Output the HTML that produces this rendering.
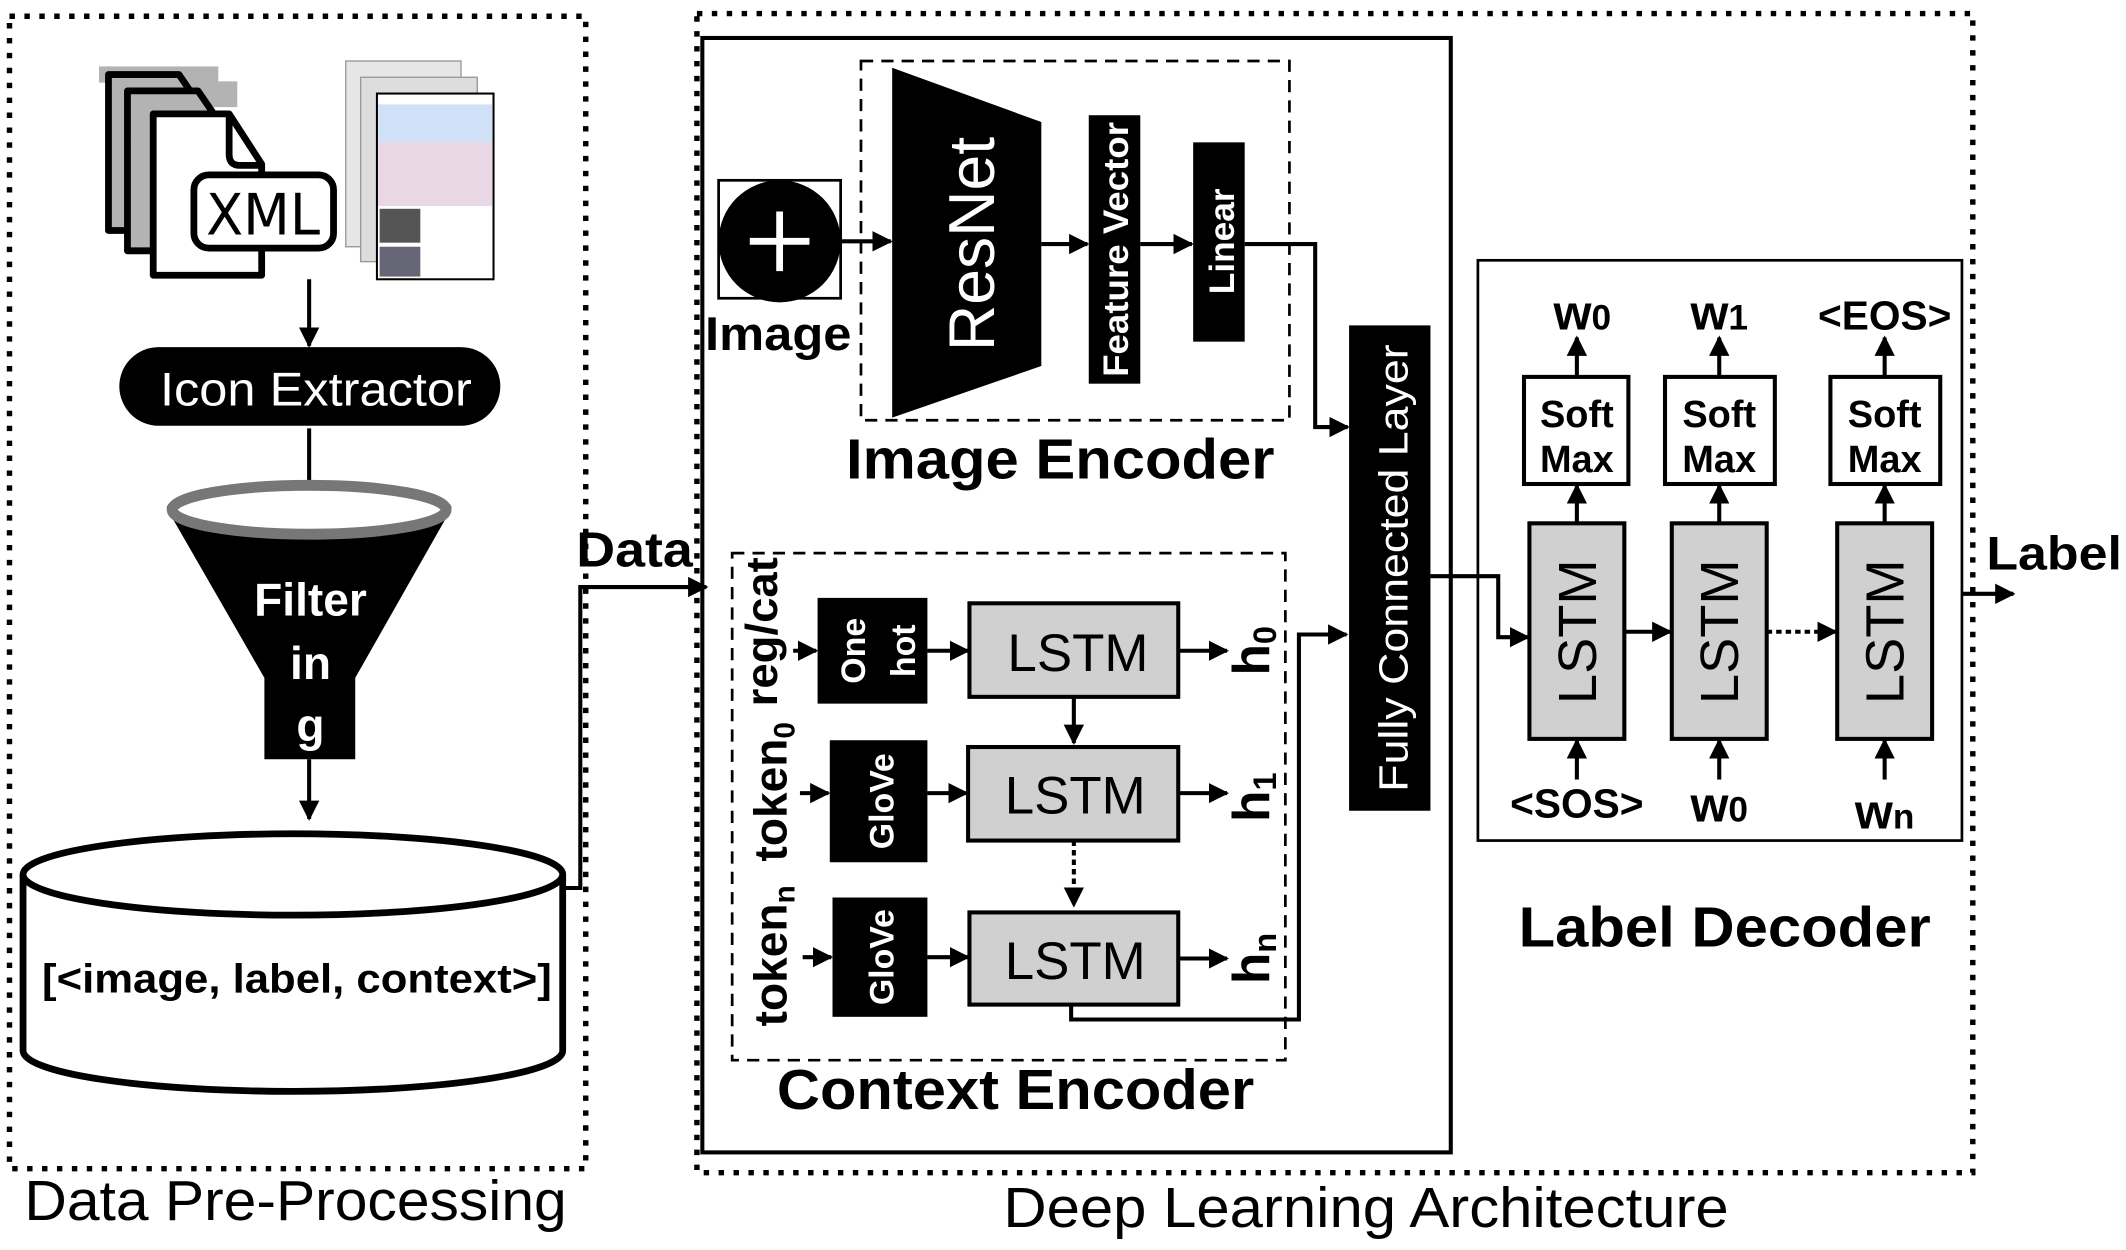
<!DOCTYPE html>
<html><head><meta charset="utf-8"><style>
html,body{margin:0;padding:0;background:#fff;}
svg{display:block;}
text{font-family:"Liberation Sans",sans-serif;}
.b{font-weight:bold;}
</style></head><body>
<svg width="2126" height="1250" viewBox="0 0 1568 922" preserveAspectRatio="none" xmlns="http://www.w3.org/2000/svg">
<defs>
<marker id="a" viewBox="0 0 10 10" refX="9" refY="5" markerWidth="5" markerHeight="5" orient="auto" markerUnits="strokeWidth"><path d="M0,0 L10,5 L0,10 z" fill="#000"/></marker>
</defs>
<g fill="none" stroke="#000">
<rect x="7" y="12" width="425" height="850" stroke-width="4" stroke-dasharray="4 7"/>
<rect x="514" y="10" width="941" height="855" stroke-width="4" stroke-dasharray="4 7"/>
<rect x="518" y="28" width="552" height="822" stroke-width="3"/>
<rect x="635" y="45" width="316" height="265" stroke-width="2" stroke-dasharray="9 6"/>
<rect x="540" y="408" width="408" height="374" stroke-width="2" stroke-dasharray="9 6"/>
<rect x="1090" y="192" width="357" height="428" stroke-width="2"/>
</g>
<!-- files icon -->
<rect x="73" y="49" width="88" height="12" fill="#b3b3b3"/>
<rect x="87" y="60" width="88" height="19" fill="#b3b3b3"/>
<path d="M80,55 h52 l24,35 v80 h-76 z" fill="#b3b3b3" stroke="#000" stroke-width="5" stroke-linejoin="round"/>
<path d="M94,67 h52 l24,35 v83 h-76 z" fill="#b3b3b3" stroke="#000" stroke-width="5" stroke-linejoin="round"/>
<path d="M113,84 h56 l24,37 v82 h-80 z" fill="#fff" stroke="#000" stroke-width="5" stroke-linejoin="round"/>
<path d="M169,84 v30 q0,8 8,8 h16" fill="none" stroke="#000" stroke-width="5"/>
<rect x="143" y="129" width="103" height="54" rx="11" fill="#fff" stroke="#000" stroke-width="5"/>
<text x="194" y="173" font-size="42" text-anchor="middle" textLength="84" lengthAdjust="spacingAndGlyphs" style="font-family:'DejaVu Sans',sans-serif">XML</text>
<!-- screenshots -->
<rect x="255" y="45" width="85" height="137" fill="#e6e6e6" stroke="#999"/>
<rect x="266" y="57" width="86" height="136" fill="#ddd" stroke="#999"/>
<rect x="278" y="69" width="86" height="137" fill="#fff" stroke="#000" stroke-width="1.5"/>
<rect x="279" y="77" width="84" height="28" fill="#cfe0f7"/>
<rect x="279" y="105" width="84" height="47" fill="#e9d7e6"/>
<rect x="280" y="154" width="30" height="25" fill="#555"/>
<rect x="280" y="182" width="30" height="22" fill="#667"/>
<!-- arrows left -->
<g stroke="#000" stroke-width="3" fill="none" marker-end="url(#a)">
<line x1="228" y1="206" x2="228" y2="255"/>
<line x1="228" y1="316" x2="228" y2="376"/>
<line x1="228" y1="560" x2="228" y2="604"/>
<polyline points="415,655 428,655 428,433 521,433"/>
</g>
<rect x="88" y="256" width="281" height="58" rx="29" fill="#000"/>
<text x="233" y="299" font-size="35" fill="#fff" text-anchor="middle" textLength="230" lengthAdjust="spacingAndGlyphs">Icon Extractor</text>
<!-- funnel -->
<path d="M123,375 A105,20 0 0 1 333,375 L262,500 V560 H195 V500 Z" fill="#000"/>
<ellipse cx="228" cy="376" rx="101" ry="18" fill="#fff" stroke="#777" stroke-width="8"/>
<text x="229" y="454" font-size="34" fill="#fff" text-anchor="middle" class="b">Filter</text>
<text x="229" y="501" font-size="34" fill="#fff" text-anchor="middle" class="b">in</text>
<text x="229" y="547" font-size="34" fill="#fff" text-anchor="middle" class="b">g</text>
<!-- cylinder -->
<path d="M17,645 V775 A199,30 0 0 0 415,775 V645" fill="#fff" stroke="#000" stroke-width="5"/>
<ellipse cx="216" cy="645" rx="199" ry="30" fill="#fff" stroke="#000" stroke-width="5"/>
<text x="219" y="732" font-size="30" text-anchor="middle" class="b" textLength="376" lengthAdjust="spacingAndGlyphs">[&lt;image, label, context&gt;]</text>
<text x="425" y="418" font-size="36" class="b" textLength="86" lengthAdjust="spacingAndGlyphs">Data</text>
<text x="18" y="900" font-size="42" textLength="400" lengthAdjust="spacingAndGlyphs">Data Pre-Processing</text>
<text x="740" y="905" font-size="42" textLength="535" lengthAdjust="spacingAndGlyphs">Deep Learning Architecture</text>
<!-- image encoder -->
<rect x="530" y="133" width="90" height="87" fill="#fff" stroke="#000" stroke-width="2"/>
<circle cx="575" cy="178" r="45" fill="#000"/>
<path d="M553,178 H597 M575,156 V200" stroke="#fff" stroke-width="5"/>
<text x="520" y="258" font-size="35" class="b" textLength="108" lengthAdjust="spacingAndGlyphs">Image</text>
<path d="M658,50 L768,90 V270 L658,308 Z" fill="#000"/>
<text transform="translate(733,180) rotate(-90)" font-size="48" fill="#fff" text-anchor="middle" textLength="158" lengthAdjust="spacingAndGlyphs">ResNet</text>
<rect x="803" y="85" width="38" height="198" fill="#000"/>
<text transform="translate(832,184) rotate(-90)" font-size="26" fill="#fff" text-anchor="middle" class="b" textLength="188" lengthAdjust="spacingAndGlyphs">Feature Vector</text>
<rect x="880" y="105" width="38" height="147" fill="#000"/>
<text transform="translate(910,178) rotate(-90)" font-size="26" fill="#fff" text-anchor="middle" class="b">Linear</text>
<g stroke="#000" stroke-width="3" fill="none" marker-end="url(#a)">
<line x1="620" y1="178" x2="657" y2="178"/>
<line x1="768" y1="180" x2="802" y2="180"/>
<line x1="841" y1="180" x2="879" y2="180"/>
<polyline points="918,180 970,180 970,315 994,315"/>
</g>
<text x="782" y="353" font-size="42" text-anchor="middle" class="b" textLength="316" lengthAdjust="spacingAndGlyphs">Image Encoder</text>
<!-- FC -->
<rect x="995" y="240" width="60" height="358" fill="#000"/>
<text transform="translate(1038,419) rotate(-90)" font-size="30" fill="#fff" text-anchor="middle" textLength="330" lengthAdjust="spacingAndGlyphs">Fully Connected Layer</text>
<!-- context encoder -->
<text transform="translate(573,466) rotate(-90)" font-size="33" text-anchor="middle" class="b" textLength="110" lengthAdjust="spacingAndGlyphs">reg/cat</text>
<text transform="translate(580,584) rotate(-90)" font-size="34" text-anchor="middle" class="b">token<tspan font-size="22" dy="6">0</tspan></text>
<text transform="translate(580,705) rotate(-90)" font-size="34" text-anchor="middle" class="b">token<tspan font-size="22" dy="6">n</tspan></text>
<rect x="603" y="441" width="81" height="78" fill="#000"/>
<text transform="translate(638,480) rotate(-90)" font-size="25" fill="#fff" text-anchor="middle" class="b">One</text>
<text transform="translate(675,480) rotate(-90)" font-size="25" fill="#fff" text-anchor="middle" class="b">hot</text>
<rect x="612" y="546" width="72" height="90" fill="#000"/>
<text transform="translate(659,591) rotate(-90)" font-size="25" fill="#fff" text-anchor="middle" class="b">GloVe</text>
<rect x="614" y="662" width="70" height="88" fill="#000"/>
<text transform="translate(659,706) rotate(-90)" font-size="25" fill="#fff" text-anchor="middle" class="b">GloVe</text>
<g fill="#d0d0d0" stroke="#000" stroke-width="3">
<rect x="715" y="445" width="154" height="69"/>
<rect x="714" y="551" width="155" height="69"/>
<rect x="715" y="673" width="154" height="68"/>
</g>
<text x="795" y="495" font-size="39" text-anchor="middle">LSTM</text>
<text x="793" y="600" font-size="39" text-anchor="middle">LSTM</text>
<text x="793" y="722" font-size="39" text-anchor="middle">LSTM</text>
<g stroke="#000" stroke-width="3" fill="none" marker-end="url(#a)">
<line x1="585" y1="480" x2="602" y2="480"/>
<line x1="684" y1="480" x2="714" y2="480"/>
<line x1="590" y1="585" x2="611" y2="585"/>
<line x1="684" y1="585" x2="713" y2="585"/>
<line x1="592" y1="706" x2="613" y2="706"/>
<line x1="684" y1="706" x2="714" y2="706"/>
<line x1="869" y1="480" x2="905" y2="480"/>
<line x1="869" y1="585" x2="905" y2="585"/>
<line x1="869" y1="707" x2="905" y2="707"/>
<line x1="792" y1="514" x2="792" y2="548"/>
<line x1="792" y1="620" x2="792" y2="668" stroke-dasharray="4 3"/>
<polyline points="790,741 790,752 958,752 958,468 993,468"/>
<polyline points="1055,425 1105,425 1105,470 1127,470"/>
<line x1="1447" y1="438" x2="1485" y2="438"/>
</g>
<text transform="translate(936,480) rotate(-90)" font-size="38" text-anchor="middle" class="b">h<tspan font-size="24" dy="5">0</tspan></text>
<text transform="translate(936,588) rotate(-90)" font-size="38" text-anchor="middle" class="b">h<tspan font-size="24" dy="5">1</tspan></text>
<text transform="translate(936,707) rotate(-90)" font-size="38" text-anchor="middle" class="b">h<tspan font-size="24" dy="5">n</tspan></text>
<text x="749" y="818" font-size="42" text-anchor="middle" class="b" textLength="352" lengthAdjust="spacingAndGlyphs">Context Encoder</text>
<!-- label decoder -->
<g fill="#fff" stroke="#000" stroke-width="3">
<rect x="1124" y="278" width="77" height="79"/>
<rect x="1228" y="278" width="81" height="79"/>
<rect x="1350" y="278" width="81" height="79"/>
</g>
<g font-size="28" text-anchor="middle" class="b">
<text x="1163" y="315">Soft</text><text x="1163" y="348">Max</text>
<text x="1268" y="315">Soft</text><text x="1268" y="348">Max</text>
<text x="1390" y="315">Soft</text><text x="1390" y="348">Max</text>
</g>
<g fill="#d0d0d0" stroke="#000" stroke-width="3">
<rect x="1128" y="386" width="70" height="159"/>
<rect x="1233" y="386" width="70" height="159"/>
<rect x="1355" y="386" width="70" height="159"/>
</g>
<text transform="translate(1177,466) rotate(-90)" font-size="40" text-anchor="middle">LSTM</text>
<text transform="translate(1282,466) rotate(-90)" font-size="40" text-anchor="middle">LSTM</text>
<text transform="translate(1404,466) rotate(-90)" font-size="40" text-anchor="middle">LSTM</text>
<g stroke="#000" stroke-width="3" fill="none" marker-end="url(#a)">
<line x1="1163" y1="386" x2="1163" y2="358"/>
<line x1="1268" y1="386" x2="1268" y2="358"/>
<line x1="1390" y1="386" x2="1390" y2="358"/>
<line x1="1163" y1="278" x2="1163" y2="249"/>
<line x1="1268" y1="278" x2="1268" y2="249"/>
<line x1="1390" y1="278" x2="1390" y2="249"/>
<line x1="1163" y1="575" x2="1163" y2="546"/>
<line x1="1268" y1="575" x2="1268" y2="546"/>
<line x1="1390" y1="575" x2="1390" y2="546"/>
<line x1="1198" y1="466" x2="1232" y2="466"/>
<line x1="1303" y1="466" x2="1354" y2="466" stroke-dasharray="4 3"/>
</g>
<g font-size="30" text-anchor="middle" class="b">
<text x="1167" y="243"><tspan font-size="36">w</tspan><tspan font-size="26">0</tspan></text>
<text x="1268" y="243"><tspan font-size="36">w</tspan><tspan font-size="26">1</tspan></text>
<text x="1390" y="243">&lt;EOS&gt;</text>
<text x="1163" y="603">&lt;SOS&gt;</text>
<text x="1268" y="606"><tspan font-size="36">w</tspan><tspan font-size="26">0</tspan></text>
<text x="1390" y="611"><tspan font-size="36">w</tspan><tspan font-size="26">n</tspan></text>
</g>
<text x="1465" y="420" font-size="35" class="b" textLength="100" lengthAdjust="spacingAndGlyphs">Label</text>
<text x="1272" y="698" font-size="42" text-anchor="middle" class="b" textLength="304" lengthAdjust="spacingAndGlyphs">Label Decoder</text>
</svg>
</body></html>
